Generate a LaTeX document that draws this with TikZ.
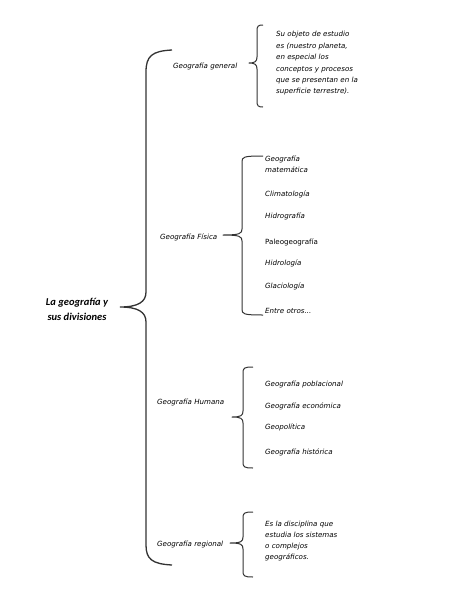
\documentclass[tikz,border=0pt]{standalone}
\usepackage{fontspec}
\setmainfont{DejaVu Sans}
\newfontfamily\mainlabfont{Carlito}
\newcommand\mybrace[6]{% #1 xv, #2 ytop, #3 ybot, #4 xend, #5 xtip, #6 ytip
  \draw[brc] (#4,#2) .. controls (#1+1,#2) and (#1,#2+1) .. (#1,#2+6)
    -- (#1,#6-6) .. controls (#1,#6-1.5) and (#1-2,#6) .. (#5,#6)
    .. controls (#1-2,#6) and (#1,#6+1.5) .. (#1,#6+6)
    -- (#1,#3-6) .. controls (#1,#3-1) and (#1+1,#3) .. (#4,#3);}
\begin{document}
\begin{tikzpicture}[x=1pt,y=-1pt,
  lab/.style={font=\fontsize{7.1}{11.4}\selectfont\itshape, inner sep=0pt, anchor=west, align=left, text=black},
  brc/.style={draw=black!80, line width=1pt, line join=round},
  bigbrc/.style={draw=black!80, line width=1.3pt},
  titlelab/.style={font=\mainlabfont\fontsize{10.5}{15}\selectfont\bfseries\itshape, align=center, inner sep=0pt}]
\useasboundingbox[fill=white] (0,0) rectangle (474,592);

% main label and brace
\node[titlelab] (t) at (77,309.5) {La geografía y\\sus divisiones};
\draw[bigbrc] (172,50) .. controls (152,51) and (146,56) .. (146,72) -- (146,292)
  .. controls (146,302) and (138,307) .. (120,307)
  .. controls (138,307) and (146,312) .. (146,322) -- (146,545)
  .. controls (146,559) and (152,564) .. (172,565);

% level two labels
\node[lab] (g1) at (173,66) {Geografía general};
\node[lab] (g2) at (160,237) {Geografía Física};
\node[lab] (g3) at (157,402) {Geografía Humana};
\node[lab] (g4) at (157,544) {Geografía regional};

% braces
\mybrace{257}{25}{107}{263}{249}{63}
\mybrace{242}{156}{315}{263}{223}{235}
\mybrace{243}{367}{468}{253}{232}{417}
\mybrace{243}{512}{577}{253}{230}{543}

% general
\node[lab] (d1) at (276,63.5) {Su objeto de estudio\\es (nuestro planeta,\\en especial los\\conceptos y procesos\\que se presentan en la\\superficie terrestre).};

% fisica
\node[lab, font=\fontsize{7.1}{11}\selectfont\itshape] (f1) at (265,164.5) {Geografía\\matemática};
\node[lab] (f2) at (265,194) {Climatología};
\node[lab] (f3) at (265,216) {Hidrografía};
\node[lab, font=\fontsize{7.1}{11.4}\selectfont] (f4) at (265,242) {Paleogeografía};
\node[lab] (f5) at (265,263) {Hidrología};
\node[lab] (f6) at (265,286) {Glaciología};
\node[lab] (f7) at (265,311) {Entre otros...};

% humana
\node[lab] (h1) at (265,384) {Geografía poblacional};
\node[lab] (h2) at (265,406) {Geografía económica};
\node[lab] (h3) at (265,427) {Geopolítica};
\node[lab] (h4) at (265,452) {Geografía histórica};

% regional
\node[lab, font=\fontsize{7.1}{10.8}\selectfont\itshape] (r1) at (265,541) {Es la disciplina que\\estudia los sistemas\\o complejos\\geográficos.};
\end{tikzpicture}
\end{document}
